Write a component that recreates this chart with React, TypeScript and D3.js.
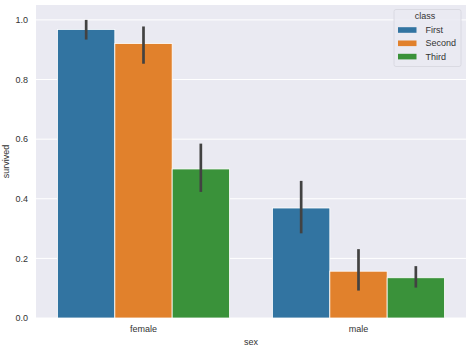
import * as d3 from "d3"
import { useEffect, useRef } from "react"

const SEXES = ["female", "male"]
const CLASSES = ["First", "Second", "Third"]
// mean survival per class, one value per sex
const SURVIVED: Record<string, number[]> = {
  First: [0.968, 0.369],
  Second: [0.921, 0.157],
  Third: [0.5, 0.135],
}
const CI_LOW: Record<string, number[]> = {
  First: [0.934, 0.284],
  Second: [0.853, 0.092],
  Third: [0.423, 0.102],
}
const CI_HIGH: Record<string, number[]> = {
  First: [1.0, 0.46],
  Second: [0.978, 0.231],
  Third: [0.585, 0.174],
}
const Y_TICKS = [0, 0.2, 0.4, 0.6, 0.8, 1.0]

const COLORS: Record<string, string> = {
  First: "#3274a1",
  Second: "#e1812c",
  Third: "#3a923a",
}

const FONT = "'Liberation Sans', Arial, sans-serif"

export default function App() {
  const ref = useRef<SVGSVGElement | null>(null)

  useEffect(() => {
    if (!ref.current) return
    document.body.style.margin = "0"
    const width = 474
    const height = 353
    const margin = { top: 5, right: 8, bottom: 35, left: 36 }

    const svg = d3.select(ref.current)
    svg.selectAll("*").remove()
    svg.attr("width", width).attr("height", height)

    const x = d3
      .scaleBand<string>()
      .domain(SEXES)
      .range([margin.left, width - margin.right])
      .paddingInner(0.2)
      .paddingOuter(0.1)

    const xInner = d3
      .scaleBand<string>()
      .domain(CLASSES)
      .range([0, x.bandwidth()])

    const y = d3
      .scaleLinear()
      .domain([0, 1.05])
      .range([height - margin.bottom, margin.top])

    // background
    svg
      .append("rect")
      .attr("x", margin.left)
      .attr("y", margin.top)
      .attr("width", width - margin.left - margin.right)
      .attr("height", height - margin.top - margin.bottom)
      .attr("fill", "#eaeaf2")

    // grid
    svg
      .append("g")
      .selectAll("line")
      .data(Y_TICKS)
      .join("line")
      .attr("x1", margin.left)
      .attr("x2", width - margin.right)
      .attr("y1", (d) => y(d))
      .attr("y2", (d) => y(d))
      .attr("stroke", "#ffffff")
      .attr("stroke-width", 1)

    // y tick labels
    svg
      .append("g")
      .selectAll("text")
      .data(Y_TICKS)
      .join("text")
      .attr("x", margin.left - 8)
      .attr("y", (d) => y(d))
      .attr("dy", "0.35em")
      .attr("text-anchor", "end")
      .attr("font-family", FONT)
      .attr("font-size", 9)
      .attr("fill", "#333")
      .text((d) => d3.format(".1f")(d))

    // x tick labels
    svg
      .append("g")
      .selectAll("text")
      .data(SEXES)
      .join("text")
      .attr("x", (d) => x(d)! + x.bandwidth() / 2)
      .attr("y", height - margin.bottom + 13.5)
      .attr("text-anchor", "middle")
      .attr("font-family", FONT)
      .attr("font-size", 9)
      .attr("fill", "#333")
      .text((d) => d)

    svg
      .append("text")
      .attr("x", (margin.left + width - margin.right) / 2)
      .attr("y", height - 8)
      .attr("text-anchor", "middle")
      .attr("font-family", FONT)
      .attr("font-size", 9)
      .attr("fill", "#333")
      .text("sex")

    svg
      .append("text")
      .attr("transform", `translate(9,${(margin.top + height - margin.bottom) / 2}) rotate(-90)`)
      .attr("text-anchor", "middle")
      .attr("font-family", FONT)
      .attr("font-size", 9)
      .attr("fill", "#333")
      .text("survived")

    const bars = CLASSES.flatMap((c) =>
      SEXES.map((s, i) => ({
        cls: c,
        sex: s,
        v: SURVIVED[c][i],
        lo: CI_LOW[c][i],
        hi: CI_HIGH[c][i],
      }))
    )

    svg
      .append("g")
      .selectAll("rect")
      .data(bars)
      .join("rect")
      .attr("x", (d) => x(d.sex)! + xInner(d.cls)!)
      .attr("y", (d) => y(d.v))
      .attr("width", xInner.bandwidth())
      .attr("height", (d) => y(0) - y(d.v))
      .attr("fill", (d) => COLORS[d.cls])
      .attr("stroke", "#ffffff")
      .attr("stroke-width", 0.8)

    svg
      .append("g")
      .selectAll("line")
      .data(bars)
      .join("line")
      .attr("x1", (d) => x(d.sex)! + xInner(d.cls)! + xInner.bandwidth() / 2)
      .attr("x2", (d) => x(d.sex)! + xInner(d.cls)! + xInner.bandwidth() / 2)
      .attr("y1", (d) => y(d.lo))
      .attr("y2", (d) => y(d.hi))
      .attr("stroke", "#424242")
      .attr("stroke-width", 2.7)

    // legend
    const lg = svg.append("g").attr("transform", "translate(394,9.5)")
    lg.append("rect")
      .attr("width", 67)
      .attr("height", 57)
      .attr("rx", 2)
      .attr("fill", "#eaeaf2")
      .attr("fill-opacity", 0.85)
      .attr("stroke", "#d6d6de")
      .attr("stroke-width", 0.8)
    lg.append("text")
      .attr("x", 31)
      .attr("y", 9.5)
      .attr("text-anchor", "middle")
      .attr("font-family", FONT)
      .attr("font-size", 9)
      .attr("fill", "#333")
      .text("class")
    const rows = lg
      .selectAll("g.row")
      .data(CLASSES)
      .join("g")
      .attr("class", "row")
      .attr("transform", (_, i) => `translate(0,${20.5 + i * 13.3})`)
    rows
      .append("rect")
      .attr("x", 4)
      .attr("y", -2.8)
      .attr("width", 18.5)
      .attr("height", 5.6)
      .attr("fill", (d) => COLORS[d])
    rows
      .append("text")
      .attr("x", 31.5)
      .attr("dy", "0.35em")
      .attr("font-family", FONT)
      .attr("font-size", 9)
      .attr("fill", "#333")
      .text((d) => d)
  }, [])

  return <svg ref={ref} style={{ display: "block" }} />
}
